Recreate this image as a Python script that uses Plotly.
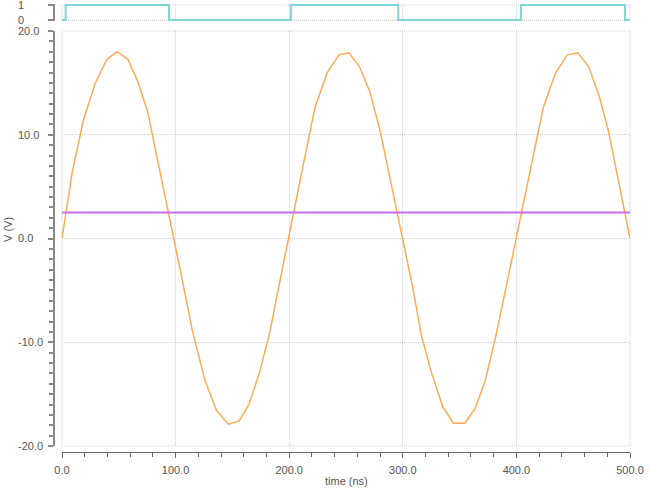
import plotly.graph_objects as go

# ---- data ----
sine_t = [0, 9.0, 18.8, 29.0, 39.3, 48.4, 57.8, 66.5, 75.4, 85.0, 94.5, 104.0, 114.8,
          125.9, 136.1, 146.4, 155.8, 164.5, 173.7, 183.0, 192.0, 202.0, 212.0, 222.7,
          233.5, 243.8, 252.6, 261.7, 271.1, 280.0, 289.5, 299.0, 308.5, 316.5, 325.4,
          335.1, 344.5, 354.5, 363.6, 372.4, 381.5, 390.5, 400.0, 411.5, 423.7, 434.6,
          444.8, 454.0, 463.4, 472.7, 480.9, 490.5, 500.0]
sine_v = [0, 6.4, 11.4, 14.9, 17.25, 18.0, 17.3, 15.2, 12.2, 7.2, 2.1, -3.0, -8.9,
          -13.7, -16.6, -17.9, -17.6, -16.0, -13.0, -9.0, -4.0, 1.3, 6.9, 12.65,
          16.0, 17.7, 17.9, 16.6, 14.1, 10.4, 5.4, 0.5, -4.6, -9.4, -13.0,
          -16.2, -17.8, -17.8, -16.4, -13.75, -9.6, -4.9, 0.1, 6.5, 12.65, 16.0,
          17.7, 17.9, 16.6, 13.8, 10.4, 5.2, 0.0]
ref_t = [0, 500]
ref_v = [2.5, 2.5]
dig_t = [0, 3.2, 94.2, 201.5, 296.0, 404.0, 495.6, 500]
dig_v = [0, 1, 0, 1, 0, 1, 0, 0]

y_ticks = [20, 10, 0, -10, -20]
y_tick_labels = ["20.0", "10.0", "0.0", "-10.0", "-20.0"]
dig_ticks = [1, 0]
dig_tick_labels = ["1", "0"]

FONT = "Liberation Sans, Arial, sans-serif"
LBL = "#555555"
GRID = "#d2d2d2"
GDASH = "1px,1px"

fig = go.Figure()
fig.add_trace(go.Scatter(x=sine_t, y=sine_v, mode="lines",
                         line=dict(color="#ffaa55", width=1.5), yaxis="y", showlegend=False))
fig.add_trace(go.Scatter(x=ref_t, y=ref_v, mode="lines",
                         line=dict(color="#c86cf0", width=2), yaxis="y", showlegend=False))
fig.add_trace(go.Scatter(x=dig_t, y=dig_v, mode="lines", line_shape="hv",
                         line=dict(color="#7fd6d6", width=2), yaxis="y2", showlegend=False))

# geometry: paper area x 54..630, y 4..452 px
L, R, T, B = 54, 20, 4, 36
W, H = 650, 488
pw, ph = W - L - R, H - T - B
def px_x(p):
    return (p - L) / pw
def px_y(p):
    return (H - B - p) / ph

annotations = []
for v, s in zip(y_ticks, y_tick_labels):
    annotations.append(dict(x=px_x(16), xref="paper", y=v, yref="y", text=s,
                            showarrow=False, xanchor="left", yanchor="middle",
                            font=dict(family=FONT, size=11, color=LBL)))
for v, s in zip(dig_ticks, dig_tick_labels):
    annotations.append(dict(x=px_x(16), xref="paper", y=v, yref="y2", text=s,
                            showarrow=False, xanchor="left", yanchor="middle",
                            font=dict(family=FONT, size=11, color=LBL)))
annotations.append(dict(x=px_x(8), xref="paper", y=px_y(230), yref="paper", text="V (V)",
                        textangle=-90, showarrow=False, xanchor="center", yanchor="middle",
                        font=dict(family=FONT, size=11, color=LBL)))
annotations.append(dict(x=px_x(346), xref="paper", y=px_y(481), yref="paper", text="time (ns)",
                        showarrow=False, xanchor="center", yanchor="middle",
                        font=dict(family=FONT, size=11, color=LBL)))

frame = dict(color=GRID, width=1, dash=GDASH)
shapes = [
    dict(type="rect", xref="x domain", yref="y domain", x0=0, x1=1, y0=0, y1=1,
         line=frame, layer="below"),
    dict(type="rect", xref="x domain", yref="y2", x0=0, x1=1, y0=0, y1=1,
         line=frame, layer="below"),
]

fig.update_layout(
    width=W, height=H,
    margin=dict(l=L, r=R, t=T, b=B, pad=0),
    paper_bgcolor="white", plot_bgcolor="white",
    font=dict(family=FONT, size=11, color=LBL),
    xaxis=dict(domain=[px_x(62), 1.0], range=[0, 500], anchor="free", position=0,
               dtick=100, tick0=0, tickformat=".1f",
               showgrid=True, gridcolor=GRID, griddash=GDASH, gridwidth=1,
               zeroline=False, showline=True, linecolor="#666666", linewidth=1,
               ticks="outside", ticklen=5, tickcolor="#666666", ticklabelstandoff=3,
               tickfont=dict(family=FONT, size=11, color=LBL),
               minor=dict(dtick=20, ticks="outside", ticklen=4, tickcolor="#666666",
                          showgrid=False)),
    yaxis=dict(domain=[px_y(446), px_y(31)], range=[-20, 20], anchor="free", position=0,
               tickvals=y_ticks, showticklabels=False,
               showgrid=True, gridcolor=GRID, griddash=GDASH, gridwidth=1,
               zeroline=False, showline=True, linecolor="#888888", linewidth=2,
               ticks="outside", ticklen=5, tickcolor="#888888", tickwidth=1.5,
               minor=dict(dtick=1, ticks="outside", ticklen=4, tickcolor="#888888",
                          tickwidth=1.5, showgrid=False)),
    yaxis2=dict(domain=[px_y(21), 1.0], range=[-0.0667, 1.0667], anchor="free", position=0,
                tickvals=dig_ticks, showticklabels=False,
                showgrid=True, gridcolor=GRID, griddash=GDASH, gridwidth=1,
                zeroline=False, showline=True, linecolor="#888888", linewidth=2,
                ticks="outside", ticklen=5, tickcolor="#888888", tickwidth=1.5),
    annotations=annotations,
    shapes=shapes,
)

fig.write_html("out.html", config={"displayModeBar": False},
               post_script="document.body.style.margin='0px';document.body.style.padding='0px';")
